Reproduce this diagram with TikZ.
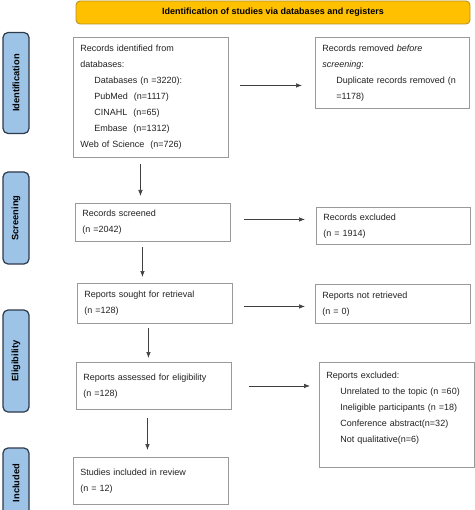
\documentclass[tikz,border=0pt]{standalone}
\usepackage{fontspec}
\setmainfont{Liberation Sans}
\usetikzlibrary{arrows.meta,calc}
\definecolor{banner}{HTML}{FFC000}
\definecolor{bannerline}{HTML}{B8952A}
\definecolor{sideblue}{HTML}{9DC3E6}
\definecolor{sideline}{HTML}{2F3A4A}
\definecolor{boxline}{HTML}{9A9A9A}
\definecolor{txt}{HTML}{222222}
\tikzset{
  box/.style={draw=boxline, line width=0.9pt, anchor=north west, inner xsep=7pt, inner ysep=0pt,
    align=left, font=\fontsize{9}{16}\selectfont, text=txt},
  side/.style={draw=sideline, fill=sideblue, line width=1.2pt, rounded corners=5pt,
    minimum height=26pt, rotate=90, inner sep=0pt, font=\bfseries\fontsize{9.3}{10}\selectfont, text=black},
  arr/.style={-{Latex[length=6pt,width=4.5pt]}, draw=gray!50!black, line width=0.7pt},
}
\newcommand{\ind}{\hspace*{14pt}}
\begin{document}
\begin{tikzpicture}[x=1pt,y=-1pt]
\useasboundingbox (0,0) rectangle (474,510);
\fill[white] (0,0) rectangle (474,510);
% banner
\node[draw=bannerline, fill=banner, line width=0.9pt, rounded corners=4pt, minimum width=394pt, minimum height=23pt,
  font=\bfseries\fontsize{9}{10}\selectfont, text=black] (ban) at (273,12.5) {Identification of studies via databases and registers};
% side labels
\node[side, minimum width=101pt] (sid) at (16,83) {Identification};
\node[side, minimum width=92pt] (sscr) at (16,218) {Screening};
\node[side, minimum width=102pt] (selg) at (16,361) {Eligibility};
\node[side, minimum width=70pt] (sinc) at (16,483) {Included};
% boxes
\node[box, text width=141pt, minimum height=120pt] (b1) at (73,37)
  {Records identified from\\ databases:\\ \ind Databases (n =3220):\\ \ind PubMed\ \ (n=1117)\\ \ind CINAHL\ \ (n=65)\\ \ind Embase\ \ (n=1312)\\ Web of Science\ \ (n=726)};
\node[box, text width=140pt, minimum height=71pt] (b2) at (315,37)
  {Records removed \textit{before}\\ \textit{screening}:\\ \ind Duplicate records removed (n\\ \ind =1178)};
\node[box, text width=141pt, minimum height=38pt] (b3) at (75,203)
  {Records screened\\ (n =2042)};
\node[box, text width=140pt, minimum height=37pt] (b4) at (316,207)
  {Records excluded\\ (n = 1914)};
\node[box, text width=141pt, minimum height=40pt] (b5) at (77,283)
  {Reports sought for retrieval\\ (n =128)};
\node[box, text width=141pt, minimum height=39pt] (b6) at (315,284)
  {Reports not retrieved\\ (n = 0)};
\node[box, text width=141pt, minimum height=47pt] (b7) at (76,362)
  {Reports assessed for eligibility\\ (n =128)};
\node[box, text width=141pt, minimum height=105pt] (b8) at (319,362)
  {Reports excluded:\\ \ind Unrelated to the topic (n =60)\\ \ind Ineligible participants (n =18)\\ \ind Conference abstract(n=32)\\ \ind Not qualitative(n=6)\\ \mbox{}};
\node[box, text width=141pt, minimum height=47pt] (b9) at (73,457)
  {Studies included in review\\ (n = 12)};
% horizontal arrows
\draw[arr, shorten <=11pt, shorten >=13pt] ([yshift=12pt]b1.east) -- ([yshift=12pt]b1.east -| b2.west);
\draw[arr, shorten <=13pt, shorten >=11pt] ([yshift=3pt]b3.east) -- ([yshift=3pt]b3.east -| b4.west);
\draw[arr, shorten <=11pt, shorten >=10pt] ([yshift=-3pt]b5.east) -- ([yshift=-3pt]b5.east -| b6.west);
\draw[arr, shorten <=17pt, shorten >=9pt] (b7.east) -- (b7.east -| b8.west);
% vertical arrows
\draw[arr, shorten <=6pt, shorten >=7pt] ([xshift=-10.5pt]b1.south) -- ([xshift=-10.5pt]b1.south |- b3.north);
\draw[arr, shorten <=5pt, shorten >=6pt] ([xshift=-10.5pt]b3.south) -- ([xshift=-10.5pt]b3.south |- b5.north);
\draw[arr, shorten <=4pt, shorten >=4pt] ([xshift=-6.5pt]b5.south) -- ([xshift=-6.5pt]b5.south |- b7.north);
\draw[arr, shorten <=8pt, shorten >=7pt] ([xshift=-6.5pt]b7.south) -- ([xshift=-6.5pt]b7.south |- b9.north);
\end{tikzpicture}
\end{document}
